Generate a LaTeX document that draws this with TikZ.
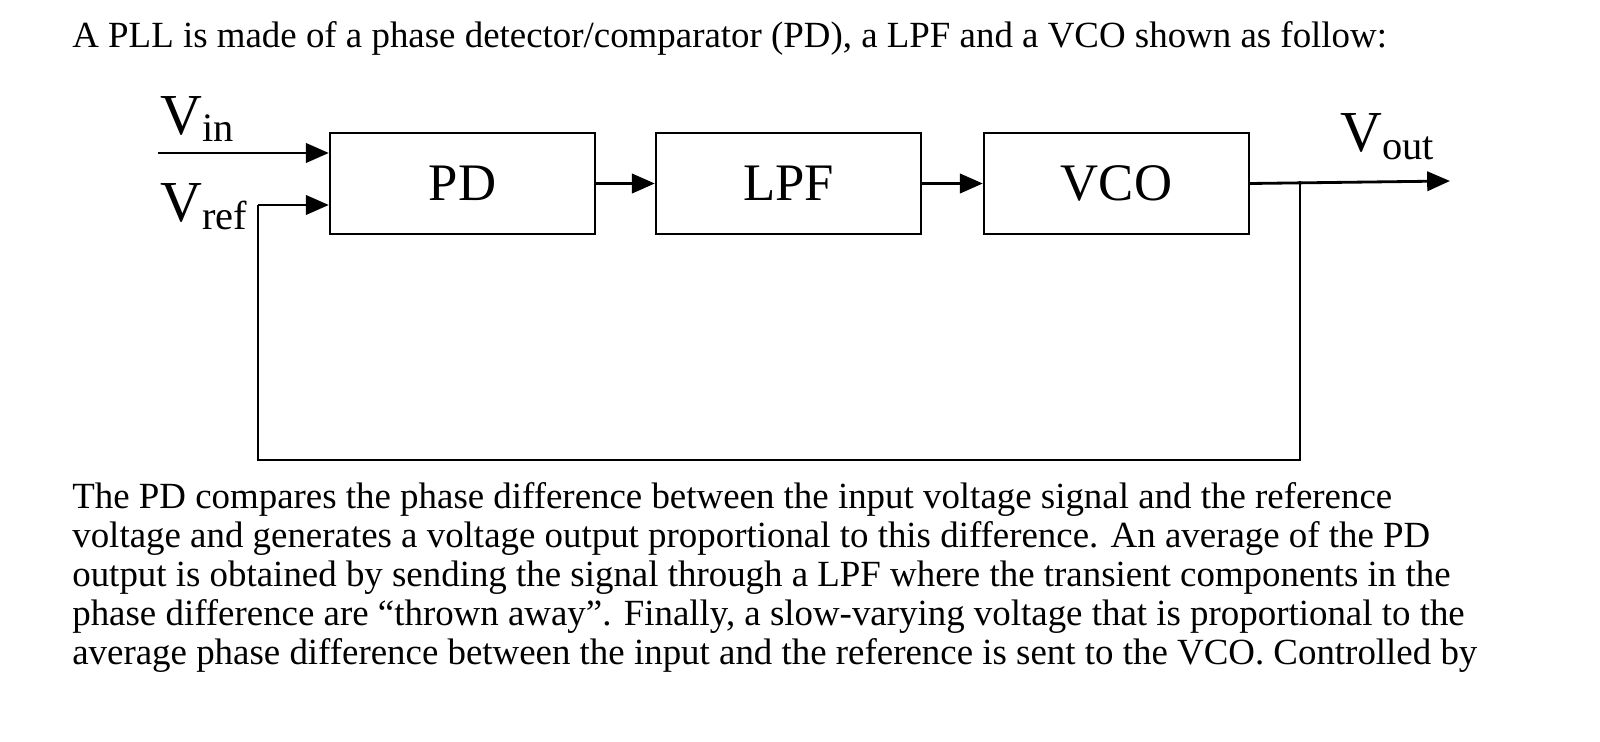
\documentclass[tikz,border=0pt]{standalone}
\usepackage{fontspec}
\setmainfont{Liberation Serif}
\usetikzlibrary{arrows.meta}
\begin{document}
\begin{tikzpicture}[x=0.02cm,y=-0.02cm,
  blk/.style={draw,line width=1.4pt,minimum width=5.3cm,minimum height=2.02cm,font=\fontsize{30}{34}\selectfont,inner sep=0pt},
  wire/.style={line width=1.6pt},
  arr/.style={wire,-{Triangle[length=13pt,width=11pt]}},
  txt/.style={anchor=base west,inner sep=0pt,font=\fontsize{21}{24}\selectfont},
  lbl/.style={inner sep=0pt,font=\fontsize{33}{38}\selectfont}]
\useasboundingbox (0,0) rectangle (1600,742);
\node[txt] (t0) at (72,48) {A PLL is made of a phase detector/comparator (PD), a LPF and a VCO shown as follow:};
\node[blk] (pd) at (462.5,183.5) {PD};
\node[blk] (lpf) at (788.5,183.5) {LPF};
\node[blk] (vco) at (1116.5,183.5) {VCO};
\coordinate (vinS) at (158,153);
\coordinate (vrefS) at (258,205);
\coordinate (bl) at (258,460);
\coordinate (br) at (1300,460);
\coordinate (tap) at (1300,181);
\coordinate (outE) at (1450,181);
\draw[arr] (vinS) -- (vinS -| pd.west);
\draw[arr] (vrefS) -- (vrefS -| pd.west);
\draw[wire] (vrefS) -- (bl) -- (br) -- (tap);
\draw[arr] (pd.east) -- (lpf.west);
\draw[arr] (lpf.east) -- (vco.west);
\draw[arr] (vco.east) -- (outE);
\node[lbl,anchor=base west] (vin) at (160,135) {V\raisebox{-0.25ex}{\fontsize{23}{26}\selectfont in}};
\node[lbl,anchor=base west] (vref) at (160,222) {V\raisebox{-0.3ex}{\fontsize{23}{26}\selectfont ref}};
\node[lbl,anchor=base west] (vout) at (1340,152) {V\raisebox{-0.3ex}{\fontsize{23}{26}\selectfont out}};
\node[txt] (p1) at (72,509) {The PD compares the phase difference between the input voltage signal and the reference};
\node[txt] (p2) at (72,548) {voltage and generates a voltage output proportional to this difference. An average of the PD};
\node[txt] (p3) at (72,587) {output is obtained by sending the signal through a LPF where the transient components in the};
\node[txt] (p4) at (72,626) {phase difference are “thrown away”. Finally, a slow-varying voltage that is proportional to the};
\node[txt] (p5) at (72,665) {average phase difference between the input and the reference is sent to the VCO. Controlled by};
\end{tikzpicture}
\end{document}
